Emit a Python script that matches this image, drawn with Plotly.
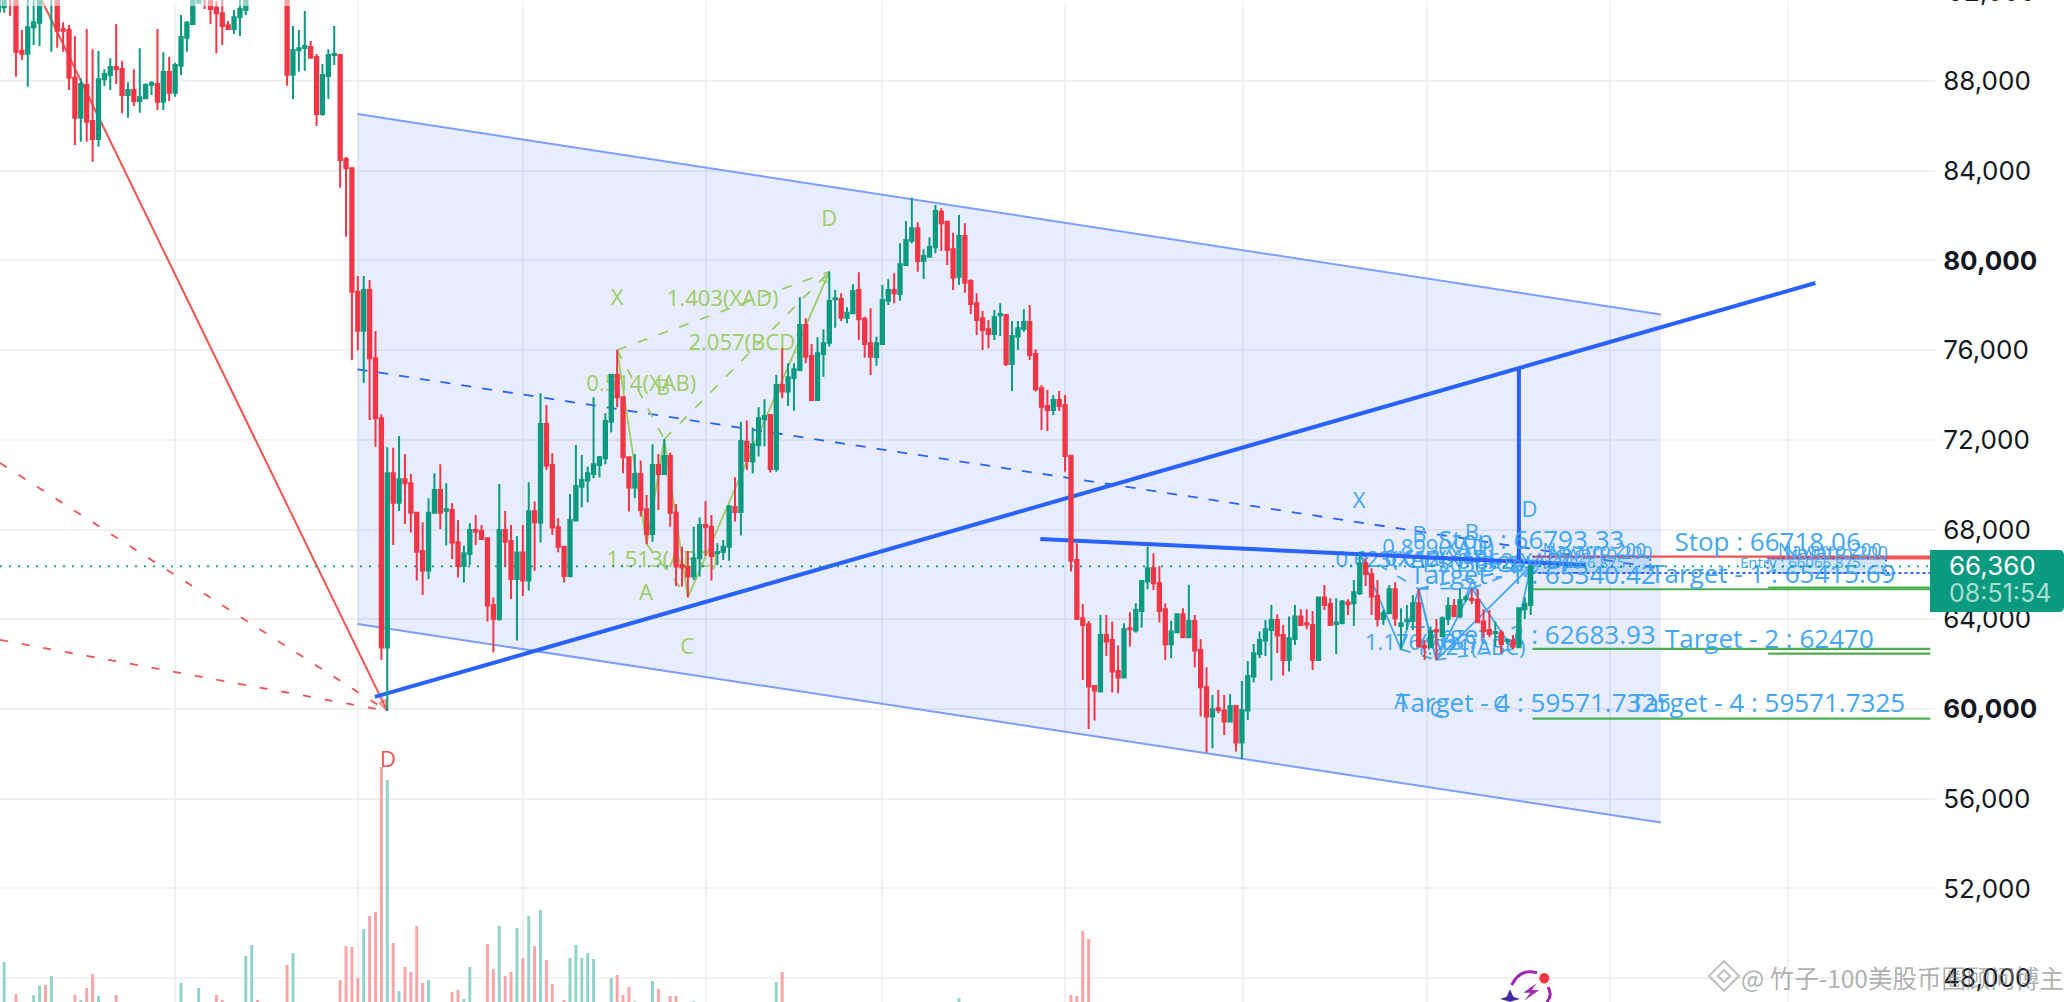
import plotly.graph_objects as go

# bars are numbered from the left edge of the screenshot, some sit above the visible range
opens = [91100, 91284, 92400, 92000, 89352, 89218, 90393, 90600, None, 92000,
         92500, 90303, 90274, 88149, 86365, 87822, 86217, 85414, 88074, 88268,
         88624, 88535, 87376, 87599, 87108, 87227, 87837, 87866, 87079, 88401,
         87480, 88684, 89932, 90541, 91492, 92300, 92000, 91269, 91017, 90482,
         90318, 90838, 91165, None, None, None, None, None, None,
         92300, 88282, 89367, 89471, 89516, 89070, 86529, 88223, 89159, 89159,
         84523, 84107, 78609, 76870, 78683, 75636, 72962, 62738, 70510, 69202,
         70242, 70064, 68756, 67047, 66171, 68756, 69767, 68845, 68875, 67434,
         66379, 66914, 67984, 67939, 67612, 64640, 64016, 67984, 67493, 65799,
         66973, 65725, 68816, 68311, 72709, 70881, 68102, 67240, 65933, 68400,
         69915, 70183, 70480, 70881, 71179, 72813, 74893, 73898, 71223, 69871,
         70480, 68905, 67805, 70881, 70480, 71282, 68756, 66423, 66319, 65903,
         66720, 68207, 68132, 66943, 67003, 67240, 68994, 68786, 71921, 71030,
         71773, 72917, 73110, 70703, 74448, 74151, 74759, 75116, 77123, 75741,
         73779, 75830, 76335, 78267, 78282, 77449, 77642, 78683, 77405, 76305,
         75681, 76275, 78207, 78683, 78504, 79797, 80882, 81432, 79975, 80168,
         80585, 82175, 81729, 80496, 79277, 81090, 79084, 78088, 77420, 76930,
         76721, 77553, 77568, 75384, 76602, 76944, 77256, 75830, 74299, 73512,
         73333, 73779, 73556, 71297, 66646, 64046, 63778, 61029, 60777, 63303,
         63080, 61698, 61401, 63600, 63496, 64373, 65680, 66275, 65606, 64447,
         62887, 63421, 64224, 63199, 63927, 62634, 60970, 59662, 60033, 59929,
         59439, 60138, 58503, 59929, 61445, 62456, 63050, 63525, 63971, 63303,
         62188, 63124, 64120, 63823, 63748, 62188, 64967, 64685, 63793, 63823,
         64744, 64714, 65160, 66498, 66022, 65041, 64016, 64269, 65339, 63704,
         63919, 63919, 64714, 62812, 62753, 63526, 63257, 64016, 64595, 64120,
         64892, 64922, 64863, 63897, 63526, 63377, 63407, 63035, 63050, 62752,
         64446, 64640]
closes = [91900, 92000, 91800, 89308, 89218, 90393, 90615, 92100, None, 93000,
          90244, 90244, 88149, 86365, 87866, 86187, 85414, 88074, 88312, 88624,
          88520, 87376, 87599, 87108, 87272, 87822, 87896, 87079, 88401, 87480,
          88713, 89961, 90600, 91700, 92000, 92000, 91210, 91017, 90452, 90318,
          90838, 91210, 91900, None, None, None, None, None, None,
          88282, 89382, 89456, 89560, 89040, 86529, 88267, 89159, 89204, 84478,
          84107, 78609, 76870, 78683, 75636, 72962, 62738, 70510, 69202, 70242,
          70064, 68756, 67017, 66171, 68756, 69767, 68756, 68905, 67419, 66379,
          66943, 67984, 67910, 67582, 64610, 64016, 67984, 67463, 65799, 66973,
          65725, 68816, 68326, 72709, 70852, 68088, 67240, 65933, 68430, 69945,
          70213, 70510, 70911, 71223, 72843, 74893, 73898, 71223, 69871, 70480,
          68875, 67805, 70881, 70480, 71282, 68756, 66349, 66305, 65903, 66720,
          68207, 68132, 66824, 67003, 67240, 69024, 68786, 71951, 71060, 71802,
          72962, 73066, 70703, 74448, 74151, 74789, 75146, 77123, 75711, 73779,
          75860, 76305, 78193, 78312, 77449, 77672, 78638, 77375, 76275, 75711,
          76305, 78237, 78683, 78534, 79827, 80912, 81432, 79975, 80198, 80615,
          82205, 81655, 80466, 79233, 81090, 79010, 78059, 77345, 76900, 76721,
          77464, 77613, 75384, 76632, 76974, 77256, 75785, 74255, 73482, 73333,
          73779, 73512, 71282, 66616, 64016, 63748, 61000, 60821, 63303, 63006,
          61668, 61401, 63555, 63555, 64417, 65710, 66275, 65606, 64373, 62887,
          63451, 64224, 63199, 63927, 62604, 60970, 59662, 59989, 59959, 59439,
          60138, 58503, 59959, 61475, 62485, 63080, 63555, 63971, 63273, 62188,
          63154, 64120, 63748, 63763, 62188, 64967, 64640, 63748, 63853, 64789,
          64670, 65205, 66498, 66022, 65012, 64016, 64268, 65339, 64045, 63823,
          63978, 64714, 62782, 62753, 63451, 63466, 64045, 64595, 64149, 64863,
          64967, 64863, 63867, 63481, 63347, 63436, 62901, 63080, 62782, 64491,
          64684, 66360]
highs = [92300, 92300, 92700, 92300, 90274, 92000, 91900, 92500, None, 93400,
         93000, 90615, 90496, 90006, 88119, 90318, 89412, 89337, 88520, 89010,
         90541, 88892, 87941, 88520, 89456, 87896, 88000, 90318, 89278, 89085,
         88817, 90942, 90675, 92200, 92300, 92600, 92300, 91566, 91800, 90675,
         91165, 91650, 92300, None, None, None, None, None, None,
         93000, 90452, 90274, 91121, 89783, 89204, 88758, 89412, 90452, 89204,
         84612, 84107, 79308, 79308, 79129, 76855, 73140, 71669, 71654, 72174,
         71372, 70480, 68756, 68325, 69395, 70510, 70911, 70064, 69172, 68430,
         67285, 68281, 68652, 68207, 67612, 64967, 70034, 68830, 68207, 67716,
         68207, 70109, 69247, 74076, 73556, 71401, 68504, 67240, 69589, 71773,
         71327, 70807, 73898, 71282, 73185, 74950, 76008, 73898, 71223, 71372,
         71075, 69544, 71802, 71372, 72025, 71431, 69143, 67240, 67047, 68132,
         68534, 69276, 68652, 67389, 67538, 69098, 70332, 72813, 72858, 72546,
         73452, 73809, 73110, 74893, 76082, 75414, 75414, 78356, 77420, 76275,
         76572, 76929, 79500, 78683, 78534, 77910, 78935, 79470, 77494, 77866,
         76602, 78906, 79158, 79426, 80763, 81759, 82799, 81700, 80496, 81031,
         82472, 82323, 81729, 81239, 82026, 81655, 79158, 78534, 77747, 77345,
         77791, 78088, 77568, 77301, 77301, 77821, 78014, 76038, 74448, 74225,
         74002, 74180, 74002, 71297, 67389, 64685, 63927, 61029, 64194, 64194,
         63897, 62827, 63823, 64313, 64714, 65755, 67241, 66943, 66379, 64714,
         63941, 64268, 64492, 65532, 64194, 63110, 61861, 60628, 60851, 60628,
         60658, 60138, 61252, 62144, 62902, 63451, 63971, 64640, 64224, 63748,
         64120, 64640, 64447, 64447, 64372, 65011, 65532, 64937, 64937, 64863,
         64893, 65755, 66943, 66720, 66275, 65754, 64417, 65532, 65650, 64491,
         64640, 65086, 65353, 63079, 63674, 64016, 64120, 64982, 64907, 65353,
         65086, 65383, 65353, 64447, 64417, 63897, 63525, 63154, 63302, 64536,
         64982, 66423]
lows = [86261, 91046, 90913, 88193, 88936, 87747, 89605, 89560, None, 89308,
        89486, 89308, 87599, 85147, 85295, 85295, 84404, 85073, 87777, 87599,
        87866, 86559, 86365, 86885, 86588, 87183, 87376, 86707, 86707, 87108,
        87302, 88267, 89308, 90541, 91492, 91210, 90541, 89233, 89605, 90274,
        90095, 90006, 90942, None, None, None, None, None, None,
        87792, 87198, 88416, 88461, 89040, 85994, 86455, 87198, 88713, 83245,
        81061, 75562, 76000, 74552, 72888, 71698, 62188, 59915, 67315, 68830,
        68251, 67865, 65725, 65086, 65799, 68726, 68028, 67285, 66691, 65859,
        65636, 66423, 67315, 67582, 63897, 62515, 63941, 66349, 64908, 63050,
        65041, 65279, 66170, 67419, 70658, 67761, 66988, 65636, 65859, 68385,
        68994, 69217, 70287, 70332, 70911, 72323, 73452, 70510, 68801, 69395,
        68578, 67345, 67463, 68875, 70436, 68132, 65487, 65458, 64982, 65754,
        65903, 66824, 65725, 66423, 66646, 66616, 68355, 67731, 70658, 70510,
        71253, 71700, 70540, 70584, 73853, 73512, 73303, 75116, 75414, 73779,
        73749, 74819, 76156, 77004, 77301, 77197, 77642, 76454, 75666, 74893,
        75310, 76275, 78014, 78088, 78207, 79797, 80763, 79500, 79173, 80168,
        80318, 80421, 79797, 78683, 78906, 78564, 77613, 76677, 76008, 76082,
        76454, 76632, 75295, 74180, 76008, 76825, 75562, 74151, 72442, 72397,
        73110, 73289, 70584, 66126, 64000, 61297, 59112, 59484, 60732, 62367,
        60732, 60702, 61401, 62783, 63407, 63630, 65338, 65309, 63853, 62188,
        62263, 63421, 63199, 63199, 61861, 59662, 58057, 58250, 59811, 58845,
        59439, 58102, 57760, 59513, 61177, 62263, 62367, 61267, 62500, 61490,
        61668, 62857, 63748, 63555, 61742, 62188, 64417, 63704, 62456, 63823,
        64194, 63704, 65086, 65487, 64194, 63674, 63748, 64239, 63704, 62663,
        63526, 63526, 62782, 62188, 62708, 62188, 63257, 63748, 64090, 64045,
        64788, 64684, 63823, 63154, 63198, 62782, 62485, 62901, 62663, 62752,
        64000, 64194]
bars = list(range(-1, 260))

vol_up_x = [0, 5, 6, 8, 13, 16, 30, 33, 41, 42, 49, 61, 65, 67, 72, 78, 79, 84, 87, 89,
            91, 96, 97, 98, 99, 100, 103, 107, 110, 117, 131, 162]
vol_up = [40, 7, 16, 26, 2, 6, 19, 14, 46, 57, 49, 73, 222, 11, 22, 3, 35, 76, 74, 86,
          92, 44, 57, 44, 49, 43, 24, 1, 21, 1, 20, 4]
vol_down_x = [2, 7, 12, 14, 15, 19, 36, 37, 43, 48, 57, 58, 59, 60, 62, 63, 64, 66, 68, 69,
              70, 71, 76, 77, 82, 83, 85, 86, 88, 90, 92, 93, 95, 104, 105, 106, 111, 113,
              114, 132, 181, 182, 183, 184]
vol_down = [8, 17, 7, 14, 28, 7, 7, 2, 2, 37, 22, 56, 55, 24, 86, 90, 235, 59, 35, 30,
            76, 19, 10, 12, 58, 33, 26, 30, 44, 56, 42, 18, 2, 27, 7, 15, 13, 6,
            6, 30, 7, 6, 71, 63]

price_ticks = list(range(48000, 92000, 4000))
tick_text = ["48,000", "52,000", "56,000", "<b>60,000</b>", "64,000", "68,000", "72,000",
             "76,000", "<b>80,000</b>", "84,000", "88,000"]
grid_x = [29, 60, 88, 119.1, 149, 180, 210.2, 241.4, 272.5, 302.7]

channel_x = [59.95, 281.1]
channel_top = [86529, 77590]
channel_mid = [75147, 66265]
channel_bottom = [63793, 54938]

rising_x = [62.9, 307.3]
rising_p = [60539, 78995]
falling_x = [175.8, 268.3]
falling_p = [67582, 66423]
drop_x = [257, 257]
drop_p = [75206, 66646]

red_x = [6.36, 65]
red_p = [91611, 59915]
red_dash_x = [-0.71, 65]
red_dash_a = [70970, 59915]
red_dash_b = [63080, 59915]

# X A B C D
green_x = [104, 109, 112, 116, 140]
green_p = [76008, 67345, 72025, 64982, 79500]
blue1_x = [230, 237, 240, 243, 259]
blue1_p = [66943, 62663, 65353, 62188, 66360]
blue2_x = [240, 243, 249, 256, 259]
blue2_p = [65353, 62188, 65383, 62663, 66360]

green_labels = ["X", "A", "B", "C", "D", "1.403(XAD)", "2.057(BCD)", "0.514(XAB)", "1.513(ABC)"]
green_label_x = [104, 108.9, 111.8, 115.9, 140, 121.9, 125.7, 108.1, 111.6]
green_label_p = [78237, 65086, 74225, 62679, 81759, 78192, 76231, 74403, 66557]
blue_labels = ["X", "D", "B", "B", "A", "C", "A", "C", "0.623(XAB)", "0.899(XAD)", "1.505(BCD)",
               "0.612(XAB)", "0.862(XAD)", "1.176(ABC)", "1.221(ABC)"]
blue_label_x = [229.9, 258.8, 240.1, 249, 237, 243, 249.1, 253.8, 235.2, 243.3, 249.6, 243.5, 256, 240.3, 248.7]
blue_label_p = [69187, 68786, 67672, 67761, 60227, 59871, 65309, 60093, 66557, 67092, 66350, 66600, 66500, 62857, 62633]

target_labels = ["Stop : 66793.33", "Target - 1 : 65340.42", "Target - 2 : 62683.93", "Target - 4 : 59571.7325",
                 "Stop : 66718.06", "Target - 1 : 65415.69", "Target - 2 : 62470", "Target - 4 : 59571.7325"]
target_label_x = [259.1, 259.4, 259.4, 259.5, 299.2, 300.1, 299.5, 299.2]
target_label_p = [67404, 65844, 63169, 60138, 67315, 65888, 62990, 60138]

stop_levels = [66793.33, 66718.06]
target_levels = [65340.42, 62683.93, 59571.7325, 65415.69, 62470]
level_start = [259.3, 299.3, 259.3, 259.3, 259.3, 299.3, 299.3]
level_end = 326.8
entry_level = 66066.875
last_price = 66360
box_x = [[259.3, 279.3], [299.2, 319.3]]

GREEN = "#0a9a80"
RED = "#f23645"
BLUE = "#2962ff"
SKY = "#42a5f5"
LIME = "#9ccc65"
SALMON = "#ef5350"
PLOT_W = 1935
H = 1002
FONT = "Open Sans"


def px(x, y):
    return x / PLOT_W, 1 - y / H


def line(xs, ys, color, width, dash="solid", arrow=False):
    tr = go.Scatter(x=xs, y=ys, mode="lines", line=dict(color=color, width=width, dash=dash), hoverinfo="skip")
    if arrow:
        tr.mode = "lines+markers"
        tr.marker = dict(symbol="arrow-open", angleref="previous", size=[0] * (len(xs) - 1) + [11],
                         color=color, line=dict(color=color, width=1.8))
    return tr


def labels(texts, xs, ys, color, size):
    return go.Scatter(x=xs, y=ys, mode="text", text=texts, textposition="middle center",
                      textfont=dict(color=color, size=size, family=FONT), hoverinfo="skip")


fig = go.Figure()

# channel
fig.add_trace(go.Scatter(x=channel_x + channel_x[::-1], y=channel_top + channel_bottom[::-1], mode="lines",
                         fill="toself", fillcolor="rgba(41,98,255,0.115)", line=dict(width=0), hoverinfo="skip"))
fig.add_trace(line(channel_x, channel_top, "#7d9dff", 2))
fig.add_trace(line(channel_x, channel_bottom, "#7d9dff", 2))
fig.add_trace(line(channel_x, channel_mid, BLUE, 1.8, "10px,11px"))

# red pattern
fig.add_trace(line(red_x, red_p, SALMON, 2, arrow=True))
fig.add_trace(line(red_dash_x, red_dash_a, SALMON, 1.8, "8px,14px"))
fig.add_trace(line(red_dash_x, red_dash_b, SALMON, 1.8, "8px,14px"))
fig.add_trace(labels(["D"], [65.1], [57641], SALMON, 22))


def harmonic(xs, ps, color):
    fig.add_trace(line(xs, ps, color, 1.8, arrow=True))
    for a, b in [(0, 2), (1, 3), (2, 4), (0, 4)]:
        fig.add_trace(line([xs[a], xs[b]], [ps[a], ps[b]], color, 1.8, "10px,12px"))


harmonic(green_x, green_p, LIME)
fig.add_trace(labels(green_labels, green_label_x, green_label_p, LIME, 22))
harmonic(blue1_x, blue1_p, SKY)
harmonic(blue2_x, blue2_p, SKY)
fig.add_trace(labels(blue_labels, blue_label_x, blue_label_p, SKY, 22))

# trend lines
fig.add_trace(line(rising_x, rising_p, BLUE, 4))
fig.add_trace(line(falling_x, falling_p, BLUE, 4))
fig.add_trace(line(drop_x, drop_p, BLUE, 4))

# stop and target levels
for lvl, start in zip(stop_levels, level_start[:2]):
    fig.add_trace(line([start, level_end], [lvl, lvl], SALMON, 2.4))
for lvl, start in zip(target_levels, level_start[2:]):
    fig.add_trace(line([start, level_end], [lvl, lvl], "#4caf50", 2.2))
for bx, stop in zip(box_x, stop_levels):
    fig.add_trace(go.Scatter(x=[bx[0], bx[1], bx[1], bx[0], bx[0]], y=[entry_level, entry_level, stop, stop, entry_level],
                             mode="lines", fill="toself", fillcolor="rgba(66,150,245,0.25)",
                             line=dict(color=BLUE, width=1.8, dash="2px,3px"), hoverinfo="skip"))
    fig.add_trace(labels(["Navarro 200", "Navarro 200"], [sum(bx) / 2 + 0.5, sum(bx) / 2 + 1.6], [67003, 66900], SKY, 18))
    fig.add_trace(labels(["Entry : 66066.875"], [sum(bx) / 2 - 4.5], [66440], SKY, 15))
fig.add_trace(line([259.3, level_end], [entry_level, entry_level], BLUE, 2, "3px,3px"))
fig.add_trace(labels(target_labels, target_label_x, target_label_p, SKY, 26))
fig.add_trace(line([-0.71, 327.6], [last_price, last_price], GREEN, 1.8, "2px,7px"))

# volume and candles sit on overlay axes so they stay over the drawings
fig.add_trace(go.Bar(x=vol_up_x, y=vol_up, width=0.5, marker=dict(color="#91d3c7", line_width=0), yaxis="y2", hoverinfo="skip"))
fig.add_trace(go.Bar(x=vol_down_x, y=vol_down, width=0.5, marker=dict(color="#f9a5a7", line_width=0), yaxis="y2", hoverinfo="skip"))
fig.add_trace(go.Candlestick(x=bars, open=opens, high=highs, low=lows, close=closes, yaxis="y3",
                             increasing=dict(line=dict(color=GREEN, width=2), fillcolor=GREEN),
                             decreasing=dict(line=dict(color=RED, width=2), fillcolor=RED)))

y_range = [46938, 91611]
fig.update_layout(
    width=2064, height=H, margin=dict(l=0, r=129, t=0, b=0, pad=0),
    paper_bgcolor="white", plot_bgcolor="white", showlegend=False, barmode="overlay",
    boxmode="overlay", boxgap=0.44, boxgroupgap=0,
    xaxis=dict(range=[-0.71, 327.6], tickvals=grid_x, showticklabels=False, ticks="", showgrid=True,
               gridcolor="#f1f1f2", gridwidth=2, zeroline=False, showline=False, rangeslider=dict(visible=False)),
    yaxis=dict(range=y_range, side="right", tickvals=price_ticks, ticktext=tick_text, showgrid=True,
               gridcolor="#f1f1f2", gridwidth=2, zeroline=False, showline=False, ticks="outside", ticklen=2,
               tickcolor="rgba(0,0,0,0)", tickfont=dict(family="Inter", size=26, color="#131722")),
    yaxis2=dict(range=[0, H], overlaying="y", visible=False),
    yaxis3=dict(range=y_range, overlaying="y", visible=False),
)

x0, y0 = px(1930, 550)
x1, y1 = px(2064, 612)
xr = 5 / PLOT_W
yr = 5 / H
tag = f"M {x0},{y0} L {x1 - xr},{y0} Q {x1},{y0} {x1},{y0 - yr} L {x1},{y1 + yr} Q {x1},{y1} {x1 - xr},{y1} L {x0},{y1} Z"


def poly(points):
    return "M " + " L ".join(f"{px(a, b)[0]},{px(a, b)[1]}" for a, b in points) + " Z"


def curve(a, b, c):
    pa, pb, pc = px(*a), px(*b), px(*c)
    return f"M {pa[0]},{pa[1]} Q {pb[0]},{pb[1]} {pc[0]},{pc[1]}"


top_x0, top_y0 = px(0, 6)
paper = dict(xref="paper", yref="paper")
cx0, cy0 = px(1539.3, 973)
cx1, cy1 = px(1549.3, 983.5)
fig.update_layout(
    shapes=[
        dict(type="rect", x0=0, x1=1, y0=top_y0, y1=1, fillcolor="rgba(255,255,255,0.55)", line_width=0, **paper),
        dict(type="path", path=tag, fillcolor=GREEN, line_width=0, **paper),
        dict(type="path", path=curve((1511.7, 985), (1520, 968), (1537, 972.7)), line=dict(color="#9c27b0", width=3), **paper),
        dict(type="path", path=curve((1548, 987), (1553, 996), (1546.7, 1002)), line=dict(color="#9c27b0", width=3), **paper),
        dict(type="path", path=poly([(1536.7, 983.3), (1523.3, 992.7), (1530.7, 992.7), (1524, 1000.7), (1539.3, 990), (1531.7, 990)]),
             fillcolor="#9c27b0", line_width=0, **paper),
        dict(type="path", path=poly([(1510, 989.3), (1513.3, 996.7), (1520, 999), (1513.3, 1000.7), (1510, 1002),
                                     (1506.7, 1000.7), (1500, 999), (1506.7, 996.7)]),
             fillcolor="#3f2a9e", line_width=0, **paper),
        dict(type="circle", x0=cx0, x1=cx1, y0=cy0, y1=cy1, fillcolor="#f23645", line_width=0, **paper),
        dict(type="path", path=poly([(1724, 961), (1739, 976), (1724, 991), (1709, 976)]),
             line=dict(color="rgba(150,150,150,0.6)", width=2), **paper),
        dict(type="path", path=poly([(1724, 970), (1730, 976), (1724, 982), (1718, 976)]),
             line=dict(color="rgba(150,150,150,0.6)", width=2), **paper),
    ],
    annotations=[
        dict(text="92,000", x=px(1946, 0)[0], y=px(0, -9)[1], xanchor="left", yanchor="middle", showarrow=False,
             font=dict(family="Inter", size=26, color="#131722"), **paper),
        dict(text="66,360", x=px(1947, 0)[0], y=px(0, 565)[1], xanchor="left", yanchor="middle", showarrow=False,
             font=dict(family="Inter", size=26, color="white"), **paper),
        dict(text="08:51:54", x=px(1947, 0)[0], y=px(0, 593)[1], xanchor="left", yanchor="middle", showarrow=False,
             font=dict(family="Inter", size=25, color="#a9ded3"), **paper),
        dict(text="@ 竹子-100美股币圈顾问博主", x=px(2066, 0)[0], y=px(0, 977)[1], xanchor="right", yanchor="middle", showarrow=False,
             font=dict(family="Noto Sans CJK SC", size=24.5, color="rgba(125,125,125,0.62)"), **paper),
    ],
)

fig.write_html("out.html", post_script="document.body.style.margin='0';", config={"displayModeBar": False})
